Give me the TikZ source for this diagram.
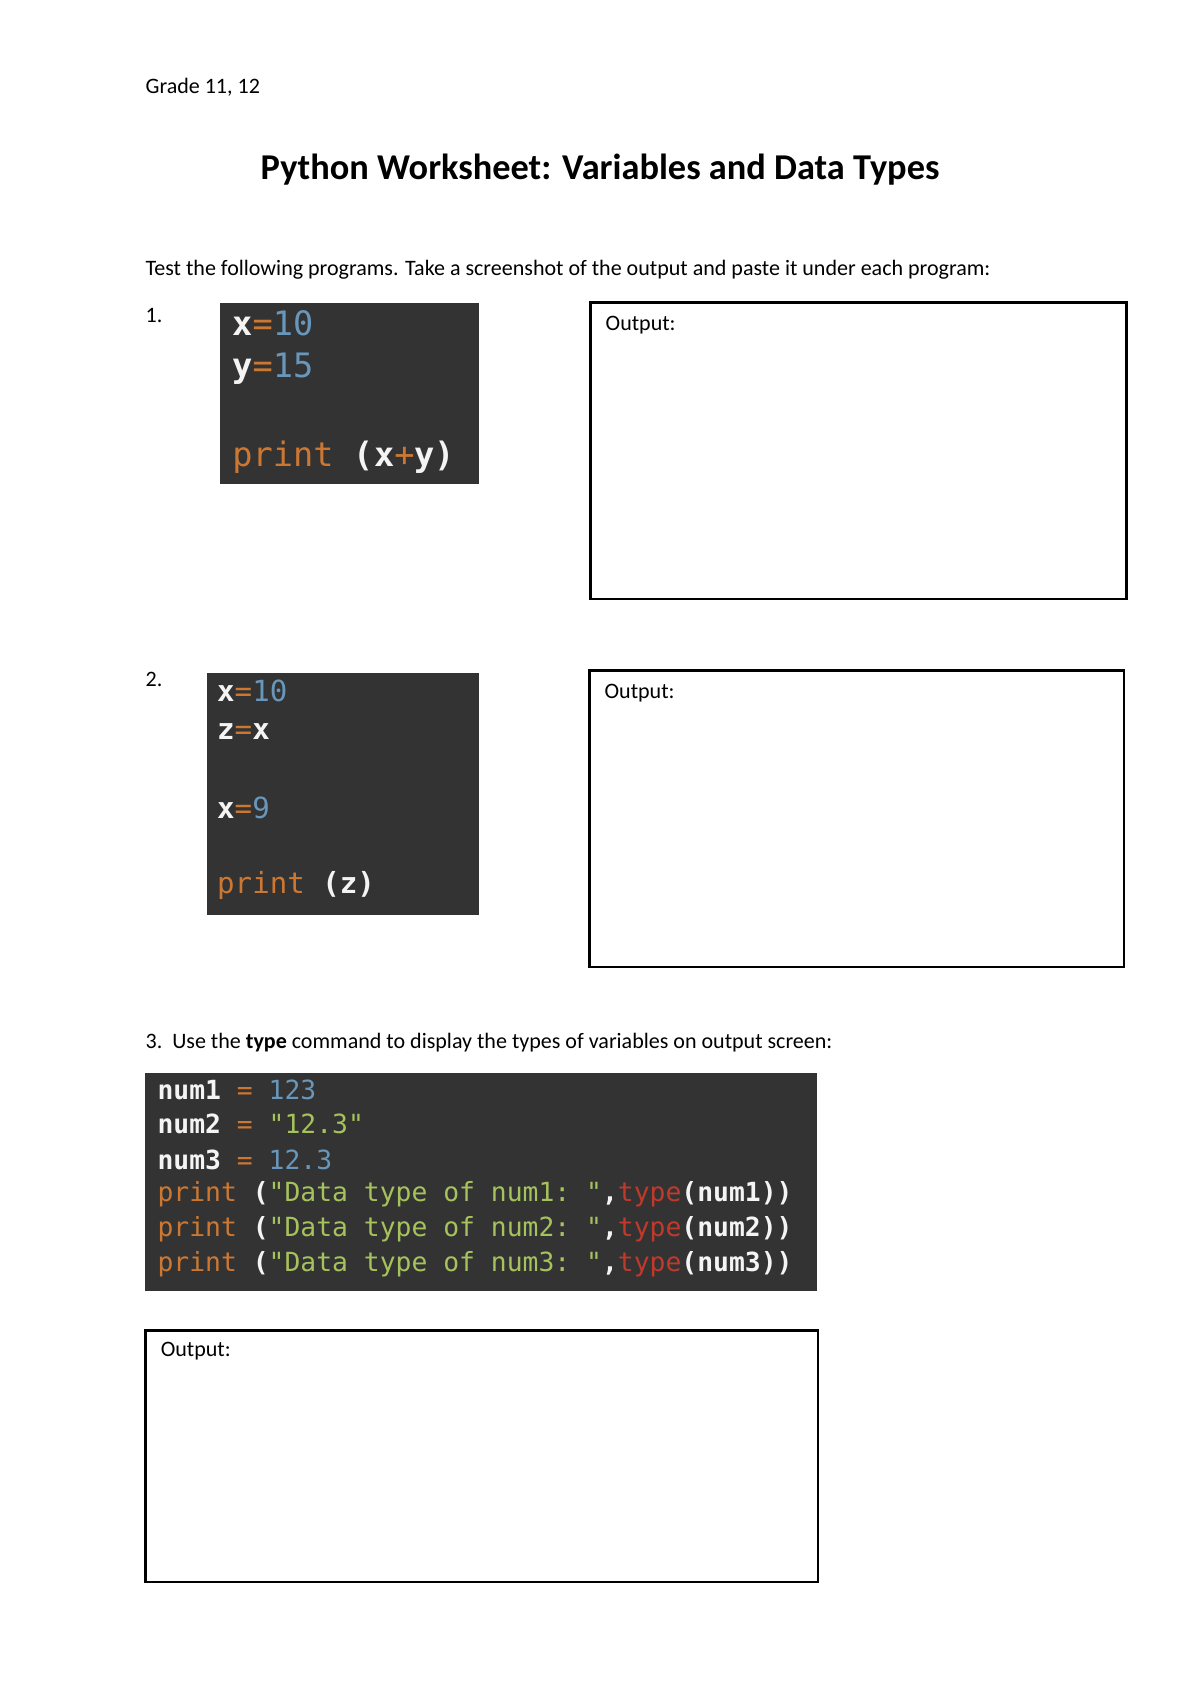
\documentclass[tikz,border=0pt]{standalone}
\usepackage{fontspec}
\setmainfont{Carlito}
\setmonofont{DejaVu Sans Mono}
\definecolor{codebg}{HTML}{333333}
\definecolor{cw}{HTML}{F4F4F4}
\definecolor{cb}{HTML}{6897BB}
\definecolor{co}{HTML}{CC7832}
\definecolor{cg}{HTML}{A5C25C}
\definecolor{cr}{HTML}{C0392B}
\newcommand{\W}[1]{\textcolor{cw}{\bfseries #1}}
\newcommand{\B}[1]{\textcolor{cb}{#1}}
\newcommand{\Or}[1]{\textcolor{co}{#1}}
\newcommand{\G}[1]{\textcolor{cg}{#1}}
\newcommand{\R}[1]{\textcolor{cr}{#1}}
\begin{document}
\begin{tikzpicture}[x=1pt,y=-1pt,
  txt/.style={anchor=west,inner sep=0pt,font=\fontsize{20.3}{23}\selectfont},
  codebox/.style={fill=codebg,draw=none},
  outbox/.style={draw=black,line width=2.4pt},
  cl1/.style={anchor=west,inner sep=0pt,font=\ttfamily\fontsize{31}{34}\selectfont},
  cl2/.style={anchor=west,inner sep=0pt,font=\ttfamily\fontsize{26.8}{30}\selectfont},
  cl3/.style={anchor=west,inner sep=0pt,font=\ttfamily\fontsize{24.3}{27}\selectfont}]
\useasboundingbox[fill=white] (0,0) rectangle (1106,1563);
\node[txt] (grade) at (134,80) {Grade 11, 12};
\node[inner sep=0pt,font=\bfseries\fontsize{33.5}{38}\selectfont] (title) at (553,156) {Python Worksheet: Variables and Data Types};
\node[txt] (instr) at (134,249) {Test the following programs. Take a screenshot of the output and paste it under each program:};
% 1
\node[txt] (n1) at (134,291) {1.};
\fill[codebox] (203,279) rectangle (441,446);
\node[cl1] (a1) at (214,298) {\W{x}\Or{=}\B{10}};
\node[cl1] (a2) at (214,340) {\W{y}\Or{=}\B{15}};
\node[cl1] (a3) at (214,421) {\Or{print} \W{(x}\Or{+}\W{y)}};
\draw[outbox] (544,279) rectangle (1038,552);
\node[txt] (o1) at (558,300) {Output:};
% 2
\node[txt] (n2) at (134,626) {2.};
\fill[codebox] (191,620) rectangle (441,843);
\node[cl2] (b1) at (200,637) {\W{x}\Or{=}\B{10}};
\node[cl2] (b2) at (200,674) {\W{z}\Or{=}\W{x}};
\node[cl2] (b3) at (200,745) {\W{x}\Or{=}\B{9}};
\node[cl2] (b4) at (200,816) {\Or{print} \W{(z)}};
\draw[outbox] (543,618) rectangle (1036,891);
\node[txt] (o2) at (557,639) {Output:};
% 3
\node[txt] (n3) at (134,961) {3.\ \ Use the \textbf{type} command to display the types of variables on output screen:};
\fill[codebox] (134,989) rectangle (753,1190);
\node[cl3] (c1) at (145,1004) {\W{num1} \Or{=} \B{123}};
\node[cl3] (c2) at (145,1036) {\W{num2} \Or{=} \G{"12.3"}};
\node[cl3] (c3) at (145,1069) {\W{num3} \Or{=} \B{12.3}};
\node[cl3] (c4) at (145,1101) {\Or{print} \W{(}\G{"Data type of num1: "}\W{,}\R{type}\W{(num1))}};
\node[cl3] (c5) at (145,1133) {\Or{print} \W{(}\G{"Data type of num2: "}\W{,}\R{type}\W{(num2))}};
\node[cl3] (c6) at (145,1165) {\Or{print} \W{(}\G{"Data type of num3: "}\W{,}\R{type}\W{(num3))}};
\draw[outbox] (134,1226) rectangle (754,1458);
\node[txt] (o3) at (148,1245) {Output:};
\end{tikzpicture}
\end{document}
